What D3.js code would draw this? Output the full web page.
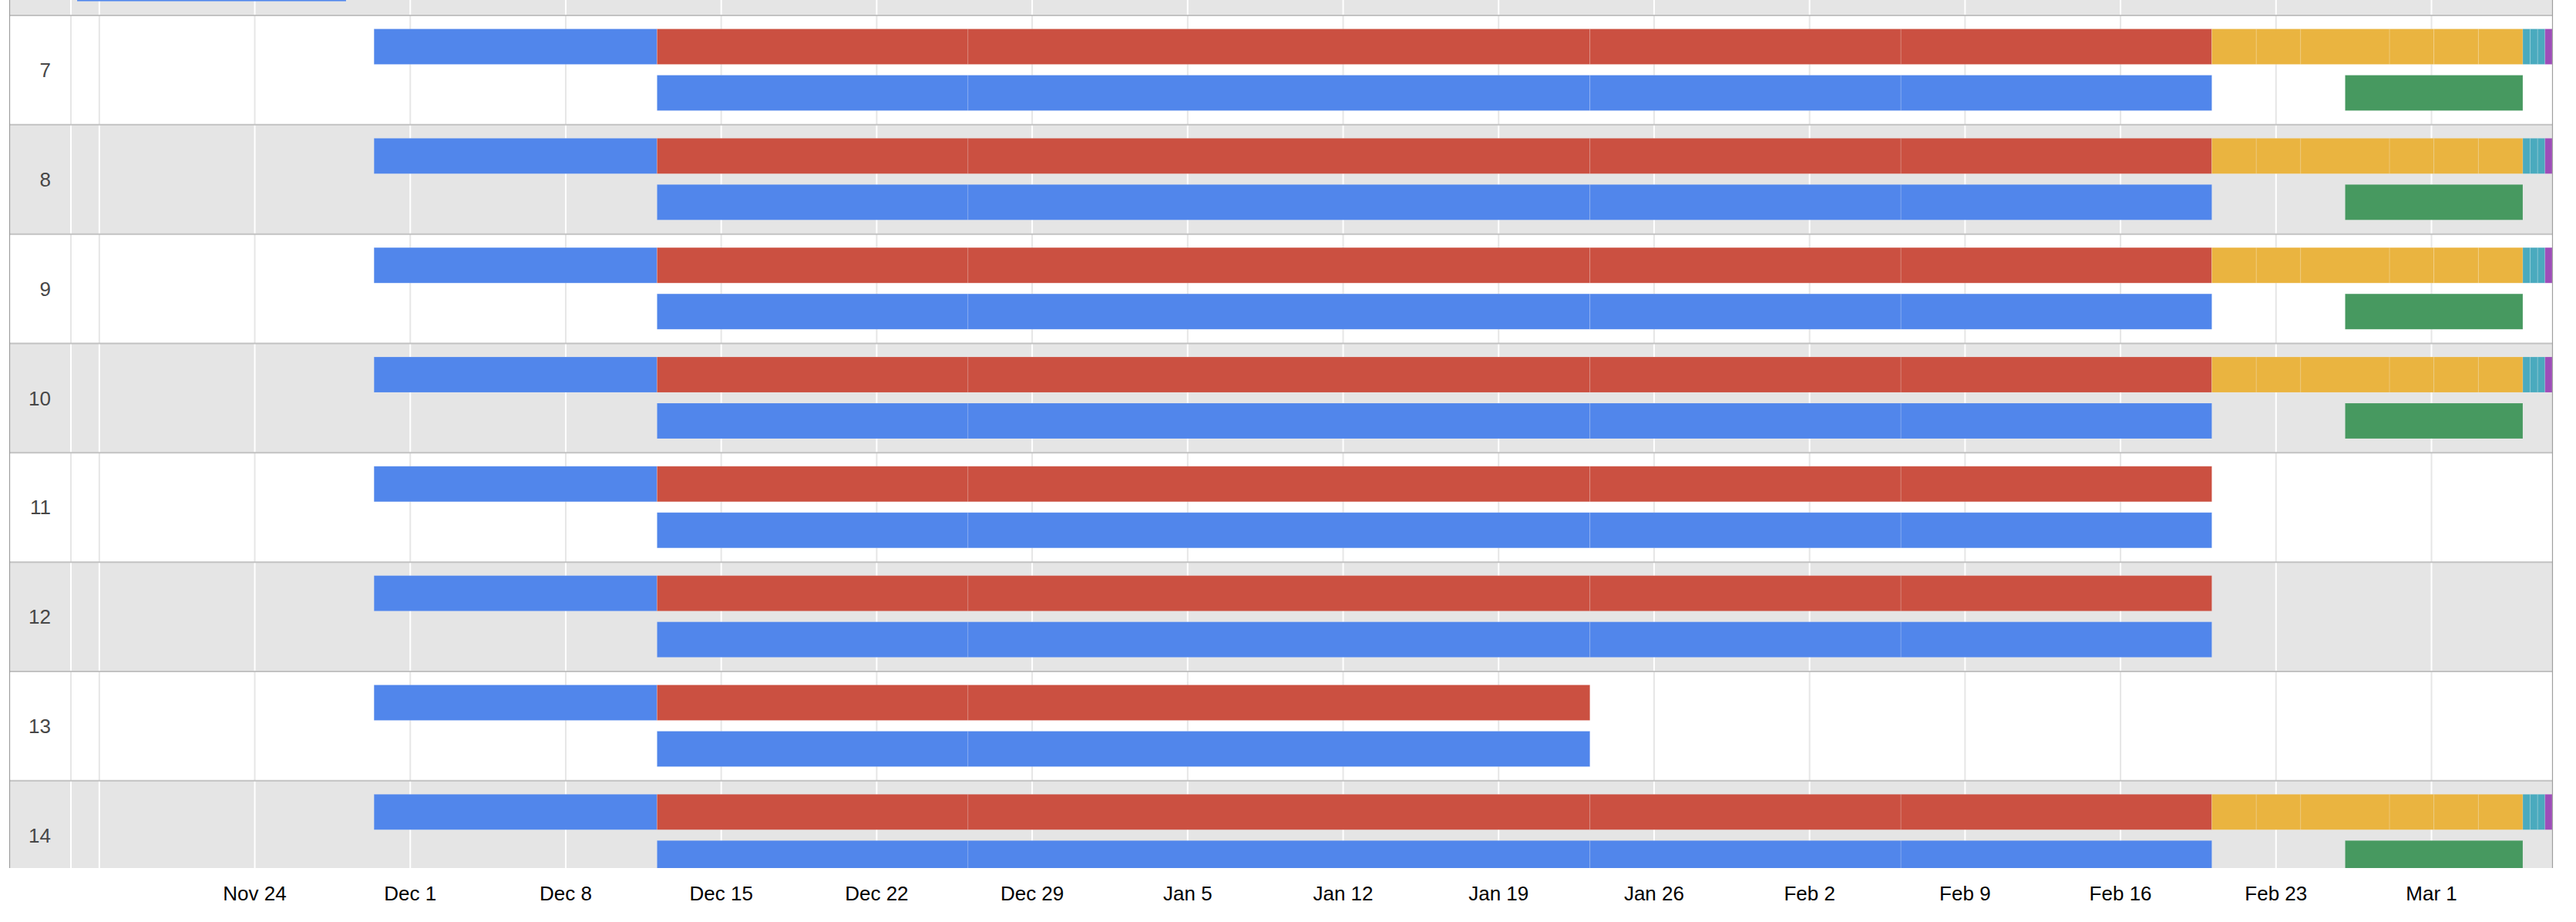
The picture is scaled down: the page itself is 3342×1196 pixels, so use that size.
<!DOCTYPE html>
<html><head><meta charset="utf-8">
<script src="https://cdn.jsdelivr.net/npm/d3@7"></script>
<style>html,body{margin:0;padding:0;background:#fff;overflow:hidden}</style>
</head><body><svg id="c" width="3342" height="1196"></svg>
<script>
// ---------- data ----------
const rowLabels = ["6","7","8","9","10","11","12","13","14"];
const rowKinds  = ["partial","full","full","full","full","mid","mid","short","full"];
const timeDomain = ["2019-11-15T17:20","2020-03-06T10:20"];

const blueStart   = ["2019-11-29T08:50","2019-12-12T02:40"];
const longBounds  = ["2019-12-12T02:40","2019-12-26T02:40","2020-01-23T02:40","2020-02-06T02:40","2020-02-20T02:40"];
const shortBounds = ["2019-12-12T02:40","2019-12-26T02:40","2020-01-23T02:40"];
const yellowBounds = ["2020-02-20T02:40","2020-02-22T02:40","2020-02-24T02:40","2020-02-28T02:40","2020-03-01T02:40","2020-03-03T02:40","2020-03-05T02:40"];
const tealBounds   = ["2020-03-05T02:40","2020-03-05T10:40","2020-03-05T18:40","2020-03-06T02:40"];
const purpleBounds = ["2020-03-06T02:40","2020-03-06T10:20"];
const greenBounds  = ["2020-02-26T02:40","2020-03-05T02:40"];
const row6Second   = ["2019-11-16T00:00","2019-11-28T02:40"];

const tickLabels = ["Nov 24","Dec 1","Dec 8","Dec 15","Dec 22","Dec 29","Jan 5","Jan 12","Jan 19","Jan 26","Feb 2","Feb 9","Feb 16","Feb 23","Mar 1"];
const tickStart = "2019-11-24T00:00";

const colors = {blue:"#5186EB", red:"#CB5041", yellow:"#EAB440", green:"#479960", teal:"#4AAABE", purple:"#9E4DB9"};

// ---------- build bars ----------
const P = s => new Date(s);
function segs(bounds, color, row, line) {
  const out = [];
  for (let i = 0; i < bounds.length - 1; i++)
    out.push({row, line, start: P(bounds[i]), end: P(bounds[i+1]), color});
  return out;
}
const bars = [];
rowLabels.forEach((r, i) => {
  const k = rowKinds[i];
  if (k === "partial") { bars.push(...segs(row6Second, colors.blue, r, 1)); return; }
  bars.push(...segs(blueStart, colors.blue, r, 0));
  const rb = k === "short" ? shortBounds : longBounds;
  bars.push(...segs(rb, colors.red, r, 0));
  bars.push(...segs(rb, colors.blue, r, 1));
  if (k === "full") {
    bars.push(...segs(yellowBounds, colors.yellow, r, 0));
    bars.push(...segs(tealBounds, colors.teal, r, 0));
    bars.push(...segs(purpleBounds, colors.purple, r, 0));
    bars.push(...segs(greenBounds, colors.green, r, 1));
  }
});

// ---------- layout ----------
const W = 3342, H = 1196;
const left = 12, right = 3311, plotLeft = 92, clipBottom = 1126;
const rowH = 141.83, firstTop = 20 - rowH;

const x = d3.scaleTime().domain(timeDomain.map(P)).range([plotLeft, right]);
const y = d3.scaleBand().domain(rowLabels).range([firstTop, firstTop + rowH * rowLabels.length]).padding(0);
const yLine = d3.scaleBand().domain([0,1]).range([17.5, 123.5]).paddingInner(0.2333).paddingOuter(0);

const svg = d3.select("#c");
const font = "'Liberation Sans', Arial, Helvetica, sans-serif";

svg.append("defs").append("clipPath").attr("id","clip")
  .append("rect").attr("x",0).attr("y",0).attr("width",W).attr("height",clipBottom);

const g = svg.append("g").attr("clip-path","url(#clip)");

const weeks = d3.timeWeek.range(x.domain()[0], x.domain()[1]);

// rows
const rows = g.selectAll("g.row").data(rowLabels).join("g").attr("class","row")
  .attr("transform", d => `translate(0,${y(d)})`);

rows.append("rect").attr("x", left).attr("y", 0).attr("width", right - left).attr("height", y.bandwidth())
  .attr("fill", (d,i) => i % 2 === 0 ? "#e5e5e5" : "#ffffff");

// grid lines per row
rows.each(function(d, i) {
  const gray = i % 2 === 0;
  const sel = d3.select(this);
  const xs = [plotLeft, ...weeks.map(w => x(w))];
  sel.selectAll("line.grid").data(xs).join("line").attr("class","grid")
    .attr("x1", v => v).attr("x2", v => v).attr("y1", 0).attr("y2", y.bandwidth())
    .attr("stroke", gray ? "#ffffff" : "#e6e6e6").attr("stroke-width", 2);
});

// row separators
g.selectAll("line.sep").data(rowLabels).join("line").attr("class","sep")
  .attr("x1", left).attr("x2", right).attr("y1", d => y(d)).attr("y2", d => y(d))
  .attr("stroke", "#c2c2c2").attr("stroke-width", 2);

// bars
g.selectAll("rect.bar").data(bars).join("rect").attr("class","bar")
  .attr("x", d => x(d.start)).attr("width", d => x(d.end) - x(d.start))
  .attr("y", d => y(d.row) + yLine(d.line)).attr("height", yLine.bandwidth())
  .attr("fill", d => d.color)
  .attr("stroke", "rgba(255,255,255,0.16)").attr("stroke-width", 1);

// row labels (only rows whose label lies inside the visible area)
const visibleLabels = rowLabels.filter(d => y(d) + y.bandwidth()/2 > 20);
g.selectAll("text.rl").data(visibleLabels).join("text").attr("class","rl")
  .attr("x", 66).attr("y", d => y(d) + y.bandwidth()/2).attr("dy","0.35em")
  .attr("text-anchor","end").attr("font-family", font).attr("font-size", 26)
  .attr("fill", "#474747").text(d => d);

// borders
svg.append("line").attr("x1", left + 0.5).attr("x2", left + 0.5).attr("y1", 0).attr("y2", clipBottom)
  .attr("stroke", "#9e9e9e").attr("stroke-width", 1.2);
svg.append("line").attr("x1", right + 0.5).attr("x2", right + 0.5).attr("y1", 0).attr("y2", clipBottom)
  .attr("stroke", "#9e9e9e").attr("stroke-width", 1.2);

// axis labels
const labelDates = d3.timeWeek.range(P(tickStart), d3.timeDay.offset(P(tickStart), 7 * tickLabels.length));
svg.selectAll("text.tl").data(labelDates).join("text").attr("class","tl")
  .attr("x", d => x(d)).attr("y", 1168)
  .attr("text-anchor","middle").attr("font-family", font).attr("font-size", 26)
  .attr("fill", "#000").text((d,i) => tickLabels[i]);
</script>
</body></html>
